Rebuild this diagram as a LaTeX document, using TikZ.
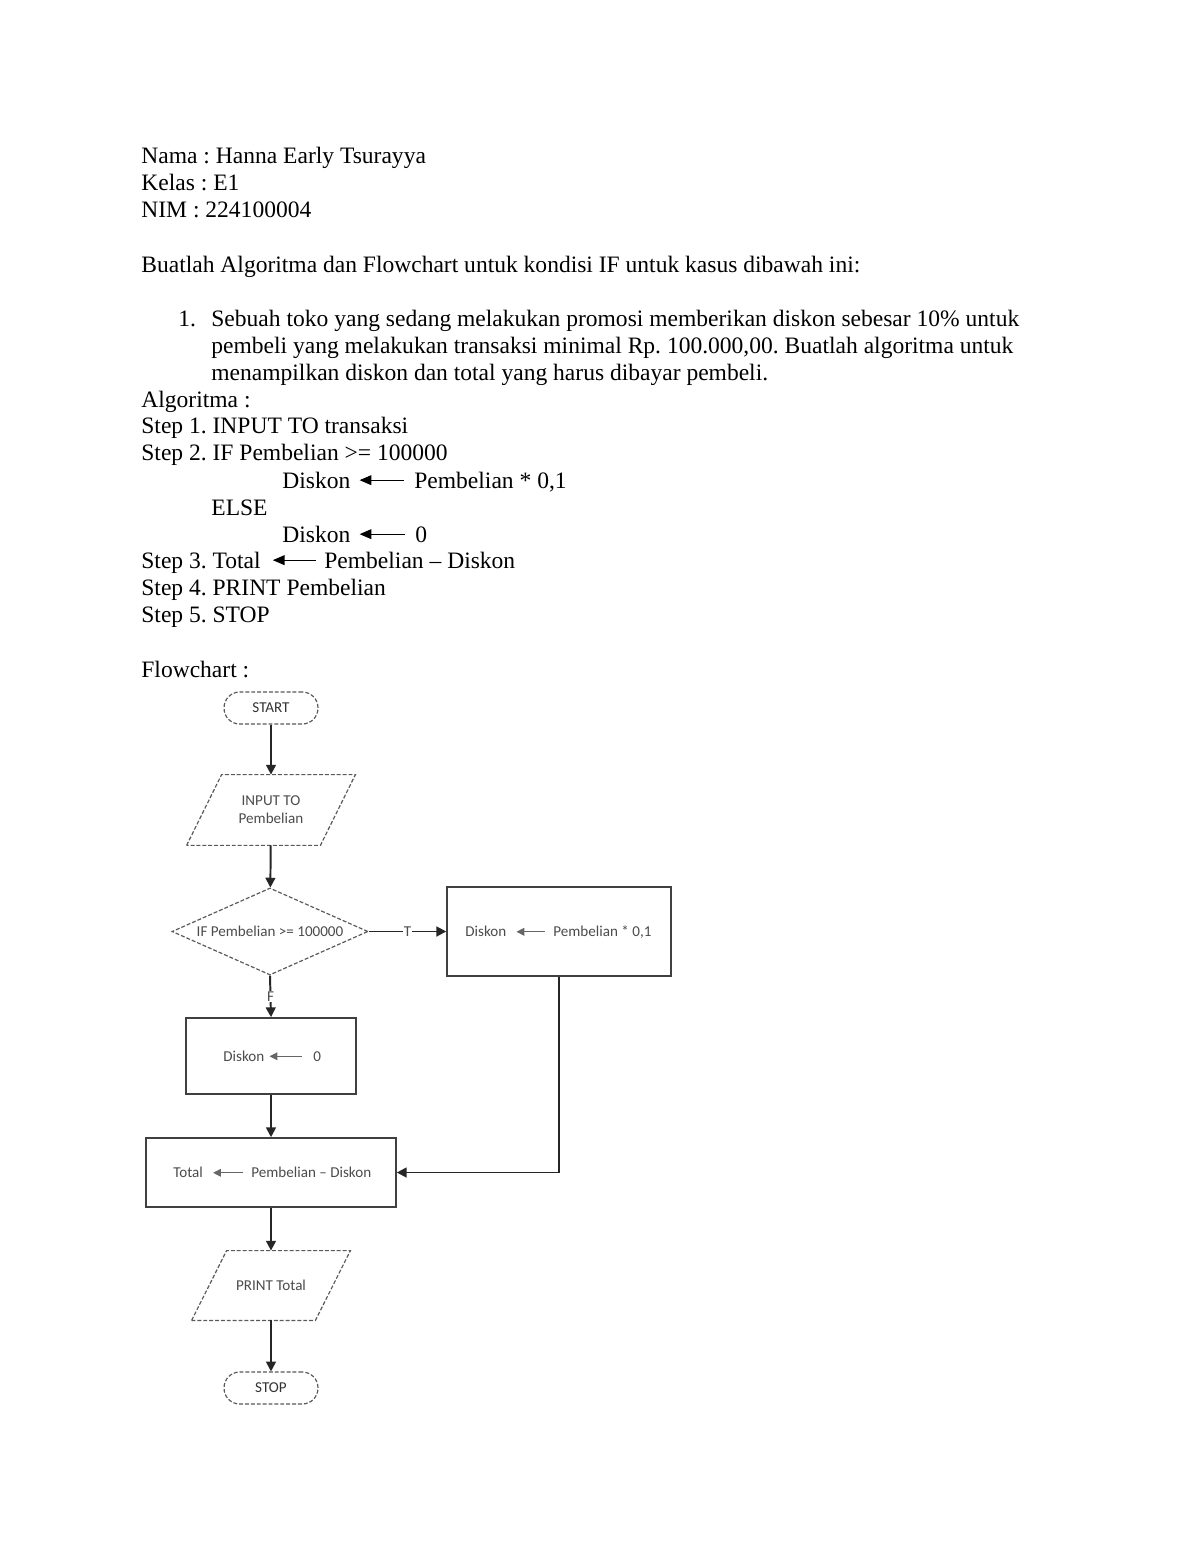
\documentclass[tikz,border=0pt]{standalone}
\usepackage{fontspec}
\setmainfont{Liberation Serif}
\newfontfamily\fcfont[Ligatures=TeX]{Carlito}
\usetikzlibrary{shapes.geometric,arrows.meta}
\frenchspacing
\tikzset{
  body/.style={anchor=base west, inner sep=0pt, font=\fontsize{12}{14}\selectfont},
  fct/.style={inner sep=0pt, font=\fcfont\fontsize{7.7}{9.2}\selectfont, text=black!70},
  fcw/.style={fct, anchor=base west},
  dashline/.style={draw=black!65, line width=0.6pt, dash pattern=on 2pt off 1pt},
  term/.style={dashline, rectangle, rounded corners=8pt, minimum width=47.9pt, minimum height=16.3pt, inner sep=0pt},
  iobox/.style={fct, rectangle, align=center},
  procbox/.style={draw=black!75, line width=0.8pt, rectangle, inner sep=0pt},
  flow/.style={draw=black!85, line width=1pt, -{Triangle[length=5pt,width=5pt]}},
  tarrow/.style={draw=black, line width=0.6pt, -{Triangle[length=6pt,width=5pt]}},
  farrow/.style={draw=black!60, line width=0.5pt, -{Triangle[length=4pt,width=4pt]}}
}
\begin{document}
\begin{tikzpicture}[x=0.51pt,y=-0.51pt]
\useasboundingbox[fill=white] (0,0) rectangle (1200,1553);

% ---------- text ----------
\node[body] (l1) at (141,164) {Nama : Hanna Early Tsurayya};
\node[body] (l2) at (141,191) {Kelas : E1};
\node[body] (l3) at (141,218) {NIM : 224100004};
\node[body] (l4) at (141,272) {Buatlah Algoritma dan Flowchart untuk kondisi IF untuk kasus dibawah ini:};
\node[body] (n1) at (178,326) {1.};
\node[body] (p1) at (211,326) {\makebox[412pt][s]{Sebuah toko yang sedang melakukan promosi memberikan diskon sebesar 10\% untuk}};
\node[body] (p2) at (211,353) {\makebox[409pt][s]{pembeli yang melakukan transaksi minimal Rp. 100.000,00. Buatlah algoritma untuk}};
\node[body] (p3) at (211,380) {menampilkan diskon dan total yang harus dibayar pembeli.};
\node[body] (a0) at (141,407) {Algoritma :};
\node[body] (s1) at (141,433) {Step 1. INPUT TO transaksi};
\node[body] (s2) at (141,460) {Step 2. IF Pembelian >= 100000};
\node[body] (d1a) at (282,488) {Diskon};
\node[body] (d1b) at (414,488) {Pembelian * 0,1};
\draw[tarrow, shorten <=5pt, shorten >=4.5pt] ([yshift=4pt]d1b.base west) -- ([yshift=4pt]d1a.base east);
\node[body] (el) at (211,515) {ELSE};
\node[body] (d2a) at (282,542) {Diskon};
\node[body] (d2b) at (415,542) {0};
\draw[tarrow, shorten <=5pt, shorten >=4.5pt] ([yshift=4pt]d2b.base west) -- ([yshift=4pt]d2a.base east);
\node[body] (s3a) at (141,568) {Step 3. Total};
\node[body] (s3b) at (324,568) {Pembelian – Diskon};
\draw[tarrow, shorten <=4pt, shorten >=6pt] ([yshift=4pt]s3b.base west) -- ([yshift=4pt]s3a.base east);
\node[body] (s4) at (141,595) {Step 4. PRINT Pembelian};
\node[body] (s5) at (141,622) {Step 5. STOP};
\node[body] (fc) at (141,677) {Flowchart :};

% ---------- flowchart ----------
\node[term] (start) at (271,708) {};
\node[fct, text=black!80] at (start) {START};

\node[iobox, minimum width=85.7pt, minimum height=35.7pt] (inp) at (271,810) {INPUT TO\\Pembelian};
\draw[dashline] (inp.south west) -- ([xshift=17.85pt]inp.north west) -- (inp.north east) -- ([xshift=-17.85pt]inp.south east) -- cycle;

\node[dashline, diamond, minimum width=100pt, minimum height=44.4pt, inner sep=0pt] (dec) at (270,931.5) {};
\node[fct] at (dec) {IF Pembelian >= 100000};

\node[procbox, minimum width=114.2pt, minimum height=45.4pt] (yes) at (559,931.5) {};
\node[fcw] (ya) at (465,936.5) {Diskon};
\node[fcw] (yb) at (553,936.5) {Pembelian * 0,1};
\draw[farrow, shorten <=4pt, shorten >=5pt] ([yshift=2.4pt]yb.base west) -- ([yshift=2.4pt]ya.base east);

\node[procbox, minimum width=86.7pt, minimum height=38.8pt] (no) at (271,1056) {};
\node[fcw] (na) at (223,1061) {Diskon};
\node[fcw] (nb) at (313,1061) {0};
\draw[farrow, shorten <=5.5pt, shorten >=2.5pt] ([yshift=2.4pt]nb.base west) -- ([yshift=2.4pt]na.base east);

\node[procbox, minimum width=127.5pt, minimum height=35.2pt] (tot) at (271,1172.5) {};
\node[fcw] (ta) at (173,1177.5) {Total};
\node[fcw] (tb) at (251,1177.5) {Pembelian – Diskon};
\draw[farrow, shorten <=4pt, shorten >=5pt] ([yshift=2.4pt]tb.base west) -- ([yshift=2.4pt]ta.base east);

\node[iobox, minimum width=80.6pt, minimum height=35.2pt] (prt) at (271,1285.5) {PRINT Total};
\draw[dashline] (prt.south west) -- ([xshift=17.85pt]prt.north west) -- (prt.north east) -- ([xshift=-17.85pt]prt.south east) -- cycle;

\node[term] (stop) at (271,1388) {};
\node[fct, text=black!80] at (stop) {STOP};

% connectors
\draw[flow] (start) -- (inp);
\draw[flow] (inp) -- (dec);
\draw[flow] (dec.east) -- node[fct, fill=white, inner sep=0.5pt] (lt) {T} (yes.west);
\draw[flow] (dec.south) -- node[fct, fill=white, inner sep=0.5pt] (lf) {F} (no.north);
\draw[flow] (no) -- (tot);
\draw[flow] (yes.south) |- (tot.east);
\draw[flow] (tot) -- (prt);
\draw[flow] (prt) -- (stop);
\end{tikzpicture}
\end{document}
